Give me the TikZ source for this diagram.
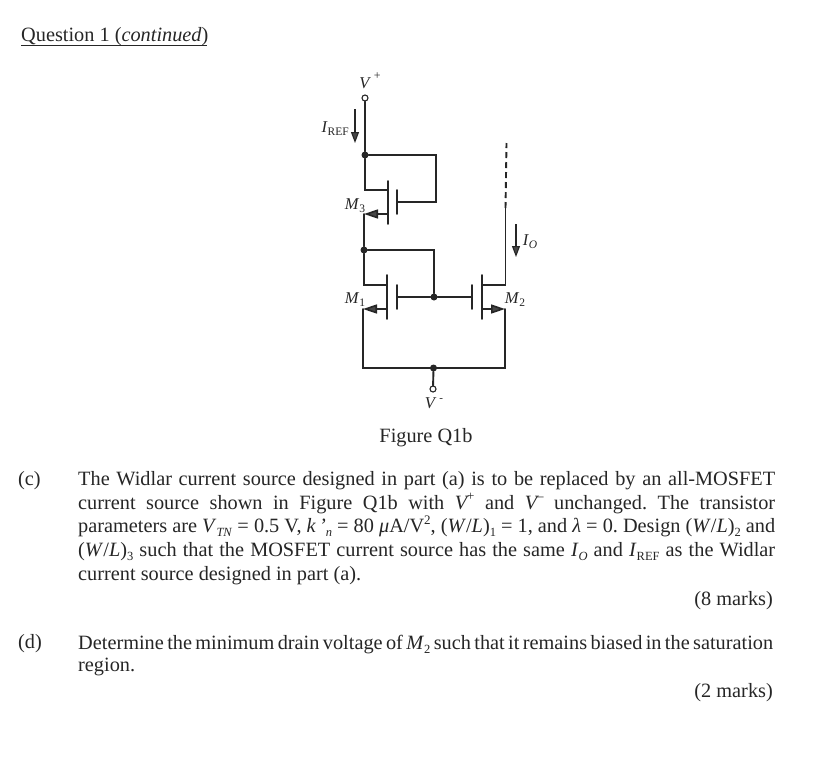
\documentclass[tikz,border=0pt]{standalone}
\usepackage{fontspec}
\setmainfont{Liberation Serif}
\usetikzlibrary{arrows.meta}
\newcommand{\lsub}[1]{\raisebox{-0.18em}{\fontsize{12.5}{13}\selectfont #1}}
\newcommand{\usup}[1]{\raisebox{0.42em}{\fontsize{13}{13}\selectfont #1}}
\newcommand{\wl}[1]{(\textit{W}/\textit{L})\lsub{#1}}
\definecolor{ink}{HTML}{262626}
\frenchspacing
\tikzset{
  x=1pt,y=-1pt,
  wire/.style={draw=ink,line width=1.9pt,line cap=round,line join=miter},
  srcarrow/.style={draw=ink,line width=1.6pt,-{Triangle[length=14pt,width=9pt,fill=ink!85]}},
  current/.style={draw=ink,line width=1.1pt,-{Triangle[length=11pt,width=8pt,fill=ink!85]}},
  junction/.style={circle,fill=ink,inner sep=0pt,minimum size=7pt},
  terminal/.style={circle,draw=ink,fill=white,line width=1.1pt,inner sep=0pt,minimum size=6pt},
  body/.style={font=\fontsize{20.3}{23.8}\selectfont,text=ink,inner sep=0pt},
  para/.style={body,anchor=north west,text width=697pt,align=justify},
  label/.style={font=\fontsize{16.5}{16.5}\selectfont,text=ink,inner sep=0pt},
}
\begin{document}
\begin{tikzpicture}
\useasboundingbox (0,0) rectangle (832,761);
\fill[white] (0,0) rectangle (832,761);

% heading
\node[body,anchor=base west] (head) at (21,41.5) {Question 1 (\textit{continued})};
\draw[ink,line width=0.9pt] (head.base west)++(0,3.5) -- ++(186,0);

% nodes of the circuit
\node[terminal] (vp) at (365,98) {};
\node[terminal] (vm) at (433,389) {};
\node[junction] (j1) at (365,155) {};
\node[junction] (j2) at (364,250) {};
\node[junction] (jg) at (434,297) {};
\node[junction] (jb) at (433.5,368) {};
\coordinate (m3d) at (388,190);
\coordinate (m3s) at (388,214);
\coordinate (m3t) at (388,181);
\coordinate (m3b) at (388,224);
\coordinate (m3p) at (397,202);
\coordinate (m3pt) at (397,190);
\coordinate (m3pb) at (397,214);
\coordinate (m1d) at (387,285);
\coordinate (m1s) at (387,309);
\coordinate (m1t) at (387,275);
\coordinate (m1b) at (387,319);
\coordinate (m1p) at (397,297);
\coordinate (m1pt) at (397,285);
\coordinate (m1pb) at (397,309);
\coordinate (m2d) at (482,285);
\coordinate (m2s) at (482,309);
\coordinate (m2t) at (482,275);
\coordinate (m2b) at (482,319);
\coordinate (m2p) at (472,297);
\coordinate (m2pt) at (472,285);
\coordinate (m2pb) at (472,309);
\coordinate (m3stip) at (364,214);
\coordinate (m1stip) at (363,309);
\coordinate (m2stip) at (505,309);
\coordinate (d2) at (505.5,208);
\coordinate (dtop) at (506.5,143);
\coordinate (cr) at (436,155);
\coordinate (mr) at (434,250);
\coordinate (bl) at (363,368);
\coordinate (br) at (505,368);
\coordinate (ir1) at (355,109);
\coordinate (ir2) at (355,143);
\coordinate (io1) at (516,224);
\coordinate (io2) at (516,257);

% wires
\draw[wire] (vp) -- (j1);
\draw[wire] (j1) -- (cr) |- (m3p);
\draw[wire] (j1) |- (m3d);
\draw[wire] (m3t) -- (m3b);
\draw[wire] (m3pt) -- (m3pb);
\draw[srcarrow] (m3s) -- (m3stip);
\draw[wire] (m3stip) -- (j2);
\draw[wire] (j2) -- (mr) -- (jg);
\draw[wire] (j2) |- (m1d);
\draw[wire] (m1t) -- (m1b);
\draw[wire] (m1pt) -- (m1pb);
\draw[wire] (m1p) -- (jg) -- (m2p);
\draw[wire] (m2t) -- (m2b);
\draw[wire] (m2pt) -- (m2pb);
\draw[srcarrow] (m1s) -- (m1stip);
\draw[srcarrow] (m2s) -- (m2stip);
\draw[wire] (m1stip) -- (bl) -- (br) -- (m2stip);
\draw[wire] (m2d) -| (d2);
\draw[draw=ink,line width=1.9pt,dash pattern=on 6pt off 4pt] (d2) -- (dtop);
\draw[wire] (jb) -- (vm);
\draw[current] (ir1) -- (ir2);
\draw[current] (io1) -- (io2);

% circuit labels
\node[label,anchor=base] (lvp) at (370,88) {\textit{V}\,\raisebox{0.5em}{\fontsize{12}{12}\selectfont +}};
\node[label,anchor=base] (lvm) at (434,408) {\textit{V}\,\raisebox{0.4em}{\fontsize{11}{11}\selectfont -}};
\node[label,anchor=base east] (liref) at (349,132) {\textit{I}\raisebox{-0.2em}{\fontsize{11.5}{11.5}\selectfont REF}};
\node[label,anchor=base] (lio) at (530,245) {\textit{I}\raisebox{-0.2em}{\fontsize{11.5}{11.5}\selectfont\textit{O}}};
\node[label,anchor=base] (lm3) at (355,209) {\textit{M}\raisebox{-0.2em}{\fontsize{11.5}{11.5}\selectfont 3}};
\node[label,anchor=base] (lm1) at (355,303) {\textit{M}\raisebox{-0.2em}{\fontsize{11.5}{11.5}\selectfont 1}};
\node[label,anchor=base] (lm2) at (515,303) {\textit{M}\raisebox{-0.2em}{\fontsize{11.5}{11.5}\selectfont 2}};
\node[body,anchor=base] (cap) at (426,442) {Figure Q1b};

% text
\node[body,anchor=base west] (c) at (18,485) {(c)};
\node[para] (ptc) at (78,471) {The Widlar current source designed in part (a) is to be replaced by an all-MOSFET\linebreak
current source shown in Figure Q1b with \textit{V}\kern-2pt\usup{+} and \textit{V}\kern-2pt\usup{--} unchanged. The transistor\linebreak
parameters are \textit{V}\lsub{\textit{TN}} = 0.5 V, \textit{k\,'}\lsub{\textit{n}} = 80 \textit{μ}A/V\usup{2}, \wl{1} = 1, and \textit{λ} = 0. Design \wl{2} and\linebreak
\wl{3} such that the MOSFET current source has the same \textit{I}\lsub{\textit{O}} and \textit{I}\lsub{REF} as the Widlar\linebreak
current source designed in part (a).};
\node[body,anchor=base east] (m8) at (773,605) {(8 marks)};
\node[body,anchor=base west] (d) at (18,648) {(d)};
\node[para,text width=695pt,font=\fontsize{20.3}{22.3}\selectfont] (ptd) at (78,635) {Determine the minimum drain voltage of \textit{M}\lsub{2} such that it remains biased in the saturation\linebreak
region.};
\node[body,anchor=base east] (m2) at (773,697) {(2 marks)};
\end{tikzpicture}
\end{document}
